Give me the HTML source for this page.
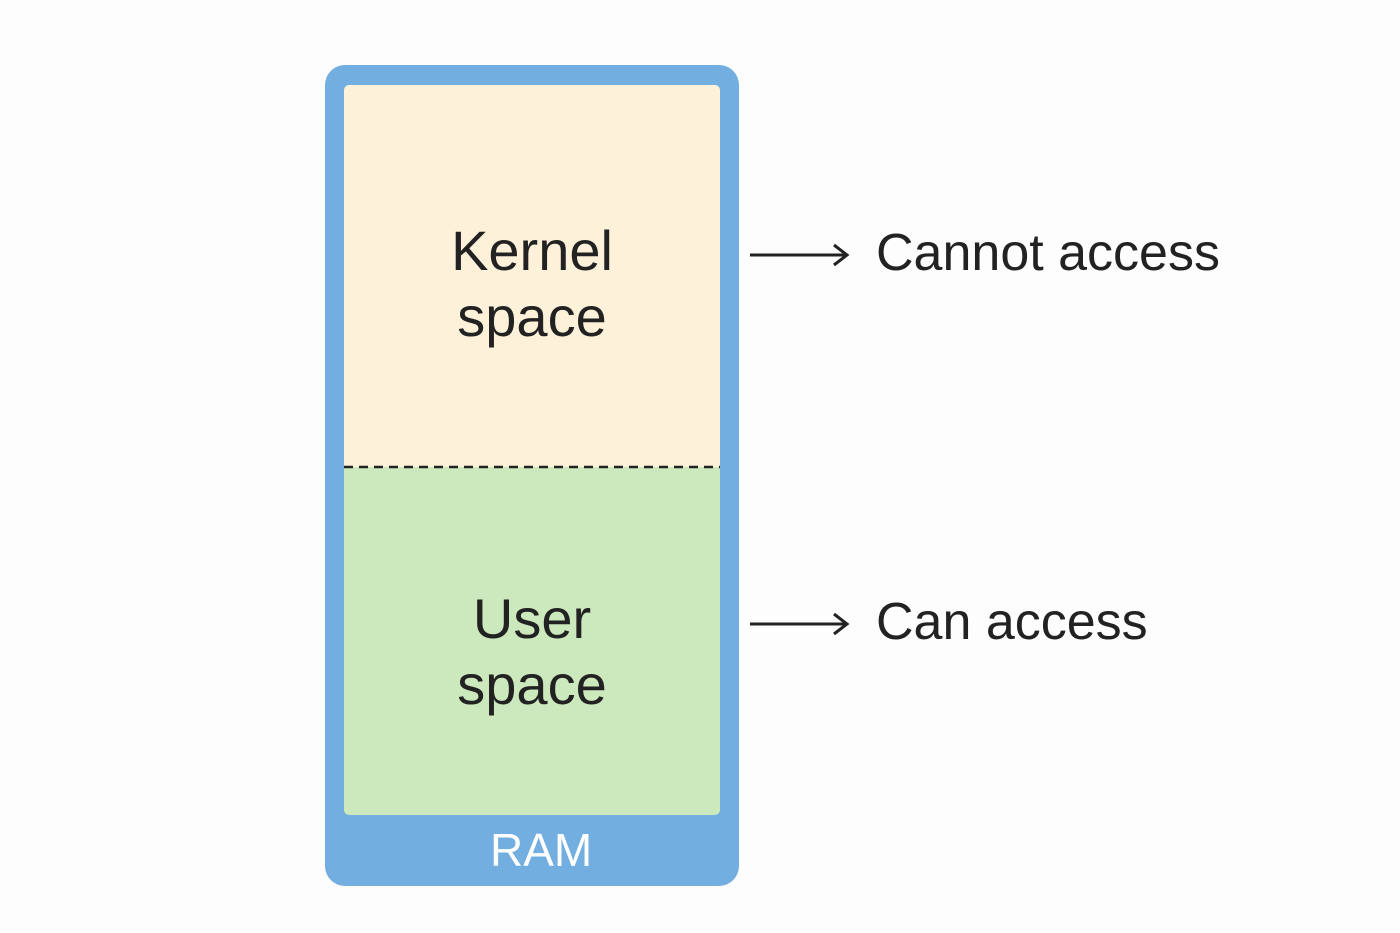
<!DOCTYPE html>
<html><head><style>
body{margin:0;width:1400px;height:933px;background:#fdfdfd;position:relative;overflow:hidden;font-family:"Liberation Sans",sans-serif;}
.t{position:absolute;color:#222;font-size:56px;line-height:66px;text-align:center;}
</style></head><body>
<div style="position:absolute;left:325px;top:65px;width:414px;height:821px;background:#72aee0;border-radius:20px;"></div>
<div style="position:absolute;left:344px;top:85px;width:376px;height:382px;background:#fdf1d9;border-radius:5px 5px 0 0;"></div>
<div style="position:absolute;left:344px;top:467px;width:376px;height:348px;background:#cce8bd;border-radius:0 0 5px 5px;"></div>
<svg style="position:absolute;left:0;top:0" width="1400" height="933">
<line x1="344" y1="467" x2="720" y2="467" stroke="#222" stroke-width="2.5" stroke-dasharray="9,6"/>
<g stroke="#222" stroke-width="3" fill="none">
<line x1="750" y1="255" x2="846" y2="255"/><polyline points="834,245 847,255 834,265"/>
<line x1="750" y1="624" x2="846" y2="624"/><polyline points="834,614 847,624 834,634"/>
</g>
</svg>
<div class="t" style="left:344px;width:376px;top:218px;">Kernel<br>space</div>
<div class="t" style="left:344px;width:376px;top:586px;">User<br>space</div>
<div class="t" style="left:490px;width:100px;top:820px;color:#fff;font-size:46px;line-height:60px;">RAM</div>
<div class="t" style="left:876px;top:220px;text-align:left;font-size:52px;">Cannot access</div>
<div class="t" style="left:876px;top:589px;text-align:left;font-size:52px;">Can access</div>
</body></html>
